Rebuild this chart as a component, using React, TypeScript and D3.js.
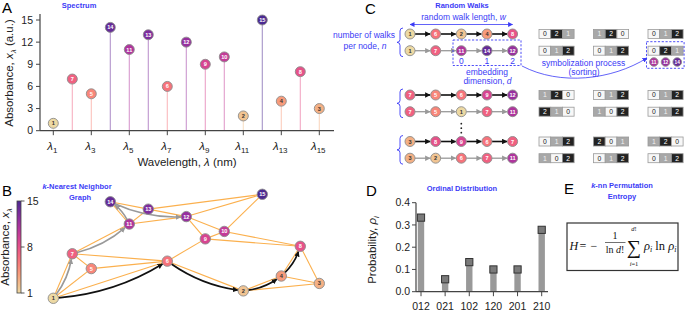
import React from "react";
import * as d3 from "d3";

// ---------- data ----------
const lambdaIndex = [1, 2, 3, 4, 5, 6, 7, 8, 9, 10, 11, 12, 13, 14, 15];
const absorbance = [1, 7, 5, 14, 11, 13, 6, 12, 9, 10, 2, 15, 4, 8, 3];
const absTicks = [0, 3, 6, 9, 12, 15];
const lambdaTicks = [1, 3, 5, 7, 9, 11, 13, 15];
const colorbarTicks = [1, 8, 15];
const sunsetColors = ["#edd9a3", "#f6a97a", "#fa7876", "#ea4f88", "#c0369d", "#872ca2", "#4b2991"];

// kNN graph edges (by node absorbance label)
const knnEdges = [
  [1, 7], [1, 5], [1, 6], [7, 5], [7, 6], [7, 11], [5, 6], [11, 14], [11, 13], [11, 12],
  [14, 13], [13, 12], [13, 15], [12, 15], [12, 9], [12, 10], [15, 10], [10, 9], [10, 8],
  [9, 6], [9, 8], [6, 2], [2, 4], [2, 3], [4, 3], [4, 8], [8, 3],
];
const walkBlack = [1, 6, 2, 4, 8];
const walkGray = [1, 7, 11, 14, 12];

const walks = [
  [1, 6, 2, 4, 8],
  [1, 7, 11, 14, 12],
  [7, 5, 6, 9, 12],
  [7, 5, 1, 7, 11],
  [3, 8, 9, 6, 7],
  [3, 2, 6, 7, 11],
];
const symbols = [
  [[0, 2, 1], [1, 2, 0], [0, 1, 2]],
  [[0, 1, 2], [0, 1, 2], [0, 2, 1]],
  [[1, 2, 0], [0, 1, 2], [0, 1, 2]],
  [[2, 1, 0], [1, 0, 2], [0, 1, 2]],
  [[0, 1, 2], [2, 0, 1], [1, 2, 0]],
  [[1, 0, 2], [0, 1, 2], [0, 1, 2]],
];
const sortedNodes = [11, 12, 14];
const embedLabels = ["0", "1", "2"];

const ordinalPatterns = ["012", "021", "102", "120", "201", "210"];
const ordinalProb = [0.333, 0.056, 0.133, 0.1, 0.1, 0.278];
const probTicks = [0, 0.1, 0.2, 0.3, 0.4];

// ---------- styles ----------
const SANS = "'Liberation Sans', Arial, Helvetica, sans-serif";
const SERIF = "'Liberation Serif', 'DejaVu Serif', serif";
const BLUE = "#3b3bf6";
const AXIS = "#444";
const EDGE = "#fbb04e";

const color = d3.scaleSequential(d3.interpolateRgbBasis(sunsetColors)).domain([1, 15]);

// scales
const xA = d3.scaleLinear().domain([1, 15]).range([53.3, 319.3]);
const yA = d3.scaleLinear().domain([0, 15]).range([130.7, 20]);
const yB = d3.scaleLinear().domain([1, 15]).range([298.3, 194.3]);
const cbY = d3.scaleLinear().domain([1, 15]).range([293, 201]);
const stepX = d3.scaleLinear().domain([0, 4]).range([410, 512.6]);
const xD = d3.scalePoint().domain(ordinalPatterns).range([421, 541.7]);
const yD = d3.scaleLinear().domain([0, 0.4]).range([291.7, 202.7]);

const lambdaOf = (v: number) => lambdaIndex[absorbance.indexOf(v)];
const nodeXY = (v: number) => [xA(lambdaOf(v)), yB(v)];

function Node({ x, y, v, r = 5, fs = 5.6 }: { x: number; y: number; v: number; r?: number; fs?: number }) {
  return (
    <g>
      <circle cx={x} cy={y} r={r} fill={color(v)} stroke="#8c8c8c" strokeWidth={0.9} />
      <text
        x={x}
        y={y + fs * 0.36}
        textAnchor="middle"
        fontFamily={SANS}
        fontWeight="bold"
        fontSize={fs}
        fill={v <= 4 ? "#333" : "#fff"}
      >
        {v}
      </text>
    </g>
  );
}

function arcPath(a: number[], b: number[], r: number, rad = 0.15) {
  const [x1, y1] = a;
  const [x2, y2] = b;
  const dx = x2 - x1, dy = y2 - y1;
  const cx = (x1 + x2) / 2 - dy * rad;
  const cy = (y1 + y2) / 2 + dx * rad;
  const u1 = Math.hypot(cx - x1, cy - y1);
  const u2 = Math.hypot(cx - x2, cy - y2);
  const sx = x1 + ((cx - x1) / u1) * r;
  const sy = y1 + ((cy - y1) / u1) * r;
  const ex = x2 + ((cx - x2) / u2) * (r + 0.6);
  const ey = y2 + ((cy - y2) / u2) * (r + 0.6);
  return `M${sx},${sy} Q${cx},${cy} ${ex},${ey}`;
}

function Brace({ x, top, bottom }: { x: number; top: number; bottom: number }) {
  const mid = (top + bottom) / 2;
  const d = `M${x + 3},${top} Q${x},${top} ${x},${top + 3} L${x},${mid - 3} Q${x},${mid} ${x - 3},${mid} Q${x},${mid} ${x},${mid + 3} L${x},${bottom - 3} Q${x},${bottom} ${x + 3},${bottom}`;
  return <path d={d} fill="none" stroke={BLUE} strokeWidth={0.9} />;
}

export default function App() {
  const cellW = 11.7, cellH = 9;
  const groupX = [539, 593.5, 648];
  const groupTop = [34, 95, 141.5];
  const pairGap = 16.7;
  const rowY = walks.map((_, i) => groupTop[Math.floor(i / 2)] + (i % 2) * pairGap);

  const cellFill = ["#f7f7f7", "#a8a8a8", "#232323"];
  const cellText = ["#222", "#f0f0f0", "#fff"];

  return (
    <svg width={685} height={311} style={{ position: "absolute", left: 0, top: 0, background: "#fff" }}>
      <defs>
        <marker id="arrBlack" viewBox="0 0 10 10" refX="9" refY="5" markerWidth="5.5" markerHeight="5.5" markerUnits="userSpaceOnUse" orient="auto">
          <path d="M0,0 L10,5 L0,10 z" fill="#111" />
        </marker>
        <marker id="arrGray" viewBox="0 0 10 10" refX="9" refY="5" markerWidth="5.5" markerHeight="5.5" markerUnits="userSpaceOnUse" orient="auto">
          <path d="M0,0 L10,5 L0,10 z" fill="#999" />
        </marker>
        <marker id="arrBlue" viewBox="0 0 10 10" refX="9" refY="5" markerWidth="5" markerHeight="5" markerUnits="userSpaceOnUse" orient="auto-start-reverse">
          <path d="M0,0 L10,5 L0,10 z" fill={BLUE} />
        </marker>
        <linearGradient id="cbar" x1="0" y1="1" x2="0" y2="0">
          {d3.range(0, 1.0001, 0.1).map((t) => (
            <stop key={t} offset={t} stopColor={color(1 + t * 14)} />
          ))}
        </linearGradient>
      </defs>

      {/* ================= Panel A ================= */}
      <text x={2} y={12.5} fontFamily={SANS} fontSize={15}>A</text>
      <text x={79} y={7.5} textAnchor="middle" fontFamily={SANS} fontWeight="bold" fontSize={7.5} fill={BLUE}>Spectrum</text>
      {absorbance.map((v, i) => (
        <line key={"s" + i} x1={xA(lambdaIndex[i])} x2={xA(lambdaIndex[i])} y1={yA(0)} y2={yA(v)} stroke={color(v)} strokeOpacity={0.5} strokeWidth={1.1} />
      ))}
      <line x1={40} x2={40} y1={14} y2={yA(0)} stroke={AXIS} strokeWidth={1.2} />
      <line x1={40} x2={334} y1={yA(0)} y2={yA(0)} stroke={AXIS} strokeWidth={1.2} />
      {absTicks.map((t) => (
        <g key={"ya" + t}>
          <line x1={36} x2={40} y1={yA(t)} y2={yA(t)} stroke={AXIS} strokeWidth={1} />
          <text x={33} y={yA(t) + 3.6} textAnchor="end" fontFamily={SANS} fontSize={10.5} fill="#222">{t}</text>
        </g>
      ))}
      {lambdaTicks.map((t) => (
        <g key={"xa" + t}>
          <line x1={xA(t)} x2={xA(t)} y1={yA(0)} y2={yA(0) + 4.5} stroke={AXIS} strokeWidth={1} />
          <text x={xA(t) - 1} y={150} textAnchor="middle" fontFamily={SANS} fontSize={11.5} fill="#222">
            <tspan fontStyle="italic">λ</tspan>
            <tspan fontSize={8} dy={2.5}>{t}</tspan>
          </text>
        </g>
      ))}
      <text x={187} y={166} textAnchor="middle" fontFamily={SANS} fontSize={11.5} fill="#222">
        Wavelength, <tspan fontStyle="italic">λ</tspan> (nm)
      </text>
      <text transform="translate(13,73) rotate(-90)" textAnchor="middle" fontFamily={SANS} fontSize={11.5} fill="#222">
        Absorbance, <tspan fontStyle="italic">x</tspan>
        <tspan fontSize={8} dy={2.5} fontStyle="italic">λ</tspan>
        <tspan dy={-2.5}> (a.u.)</tspan>
      </text>
      {absorbance.map((v, i) => (
        <Node key={"na" + i} x={xA(lambdaIndex[i])} y={yA(v)} v={v} r={5} />
      ))}

      {/* ================= Panel B ================= */}
      <text x={2} y={195.5} fontFamily={SANS} fontSize={15}>B</text>
      <text x={77} y={189} textAnchor="middle" fontFamily={SANS} fontWeight="bold" fontSize={7.5} fill={BLUE}>
        <tspan fontStyle="italic">k</tspan>-Nearest Neighbor
      </text>
      <text x={80} y={199.5} textAnchor="middle" fontFamily={SANS} fontWeight="bold" fontSize={7.5} fill={BLUE}>Graph</text>
      <rect x={17} y={cbY(15)} width={4} height={cbY(1) - cbY(15)} fill="url(#cbar)" stroke="#444" strokeWidth={0.8} />
      {colorbarTicks.map((t) => (
        <g key={"cb" + t}>
          <line x1={21} x2={24.5} y1={cbY(t)} y2={cbY(t)} stroke="#444" strokeWidth={0.9} />
          <text x={27} y={cbY(t) + 3.6} fontFamily={SANS} fontSize={10.5} fill="#222">{t}</text>
        </g>
      ))}
      <text transform="translate(9,247) rotate(-90)" textAnchor="middle" fontFamily={SANS} fontSize={11.5} fill="#222">
        Absorbance, <tspan fontStyle="italic">x</tspan>
        <tspan fontSize={8} dy={2.5} fontStyle="italic">λ</tspan>
      </text>
      {knnEdges.map(([a, b], i) => {
        const [x1, y1] = nodeXY(a);
        const [x2, y2] = nodeXY(b);
        return <line key={"e" + i} x1={x1} y1={y1} x2={x2} y2={y2} stroke={EDGE} strokeWidth={1.1} />;
      })}
      {walkGray.slice(0, -1).map((v, i) => (
        <path key={"wg" + i} d={arcPath(nodeXY(v), nodeXY(walkGray[i + 1]), 5, 0.12)} fill="none" stroke="#999" strokeWidth={1.6} markerEnd="url(#arrGray)" />
      ))}
      {walkBlack.slice(0, -1).map((v, i) => (
        <path key={"wb" + i} d={arcPath(nodeXY(v), nodeXY(walkBlack[i + 1]), 5, 0.12)} fill="none" stroke="#111" strokeWidth={1.7} markerEnd="url(#arrBlack)" />
      ))}
      {absorbance.map((v) => {
        const [x, y] = nodeXY(v);
        return <Node key={"nb" + v} x={x} y={y} v={v} r={5.2} />;
      })}

      {/* ================= Panel C ================= */}
      <text x={365} y={13.5} fontFamily={SANS} fontSize={15}>C</text>
      <text x={462} y={8} textAnchor="middle" fontFamily={SANS} fontWeight="bold" fontSize={7.5} fill={BLUE}>Random Walks</text>
      <text x={463.5} y={19.5} textAnchor="middle" fontFamily={SANS} fontSize={8.5} fill={BLUE}>
        random walk length, <tspan fontStyle="italic">w</tspan>
      </text>
      <line x1={stepX(0)} x2={stepX(4)} y1={24.5} y2={24.5} stroke={BLUE} strokeWidth={0.8} markerStart="url(#arrBlue)" markerEnd="url(#arrBlue)" />
      <text x={364} y={37.5} textAnchor="middle" fontFamily={SANS} fontSize={8.5} fill={BLUE}>number of walks</text>
      <text x={365} y={48.5} textAnchor="middle" fontFamily={SANS} fontSize={8.5} fill={BLUE}>
        per node, <tspan fontStyle="italic">n</tspan>
      </text>
      {groupTop.map((gt, g) => (
        <Brace key={"br" + g} x={400} top={gt - 6} bottom={gt + pairGap + 6} />
      ))}
      {walks.map((w, ri) => (
        <g key={"walk" + ri}>
          {w.slice(0, -1).map((_, k) => (
            <line
              key={k}
              x1={stepX(k) + 5}
              x2={stepX(k + 1) - 5.6}
              y1={rowY[ri]}
              y2={rowY[ri]}
              stroke={ri % 2 === 0 ? "#111" : "#999"}
              strokeWidth={ri % 2 === 0 ? 1.6 : 1.3}
              markerEnd={ri % 2 === 0 ? "url(#arrBlack)" : "url(#arrGray)"}
            />
          ))}
          {w.map((v, k) => (
            <Node key={"n" + k} x={stepX(k)} y={rowY[ri]} v={v} r={5} />
          ))}
        </g>
      ))}
      {[0, 1, 2].map((k) => (
        <circle key={"dot" + k} cx={stepX(2)} cy={rowY[3] + 12 + k * 4.5} r={0.9} fill="#222" />
      ))}
      <rect x={453} y={40} width={68} height={25.5} fill="none" stroke={BLUE} strokeWidth={0.9} strokeDasharray="2.2,1.6" />
      {embedLabels.map((l, k) => (
        <text key={"el" + k} x={stepX(k + 2)} y={64} textAnchor="middle" fontFamily={SANS} fontSize={8.5} fill={BLUE}>{l}</text>
      ))}
      <text x={487} y={75} textAnchor="middle" fontFamily={SANS} fontSize={8.5} fill={BLUE}>embedding</text>
      <text x={487.5} y={84} textAnchor="middle" fontFamily={SANS} fontSize={8.5} fill={BLUE}>
        dimension, <tspan fontStyle="italic">d</tspan>
      </text>
      <path d="M522,66 C560,86 612,80 647,58" fill="none" stroke={BLUE} strokeWidth={0.8} markerEnd="url(#arrBlue)" />
      <text x={583.5} y={65.5} textAnchor="middle" fontFamily={SANS} fontSize={8.5} fill={BLUE}>symbolization process</text>
      <text x={584} y={75} textAnchor="middle" fontFamily={SANS} fontSize={8.5} fill={BLUE}>(sorting)</text>
      {symbols.map((row, ri) =>
        row.map((sym, gi) => (
          <g key={`sym${ri}-${gi}`}>
            {sym.map((s, ci) => {
              const x = groupX[gi] + ci * cellW;
              const y = rowY[ri] - cellH / 2;
              return (
                <g key={ci}>
                  <rect x={x} y={y} width={cellW} height={cellH} fill={cellFill[s]} stroke="#9a9a9a" strokeWidth={0.8} />
                  <text x={x + cellW / 2} y={y + cellH / 2 + 2.4} textAnchor="middle" fontFamily={SANS} fontSize={6.8} fill={cellText[s]}>{s}</text>
                </g>
              );
            })}
          </g>
        ))
      )}
      <rect x={groupX[2] - 1.5} y={41.7} width={3 * cellW + 2.5} height={26.6} fill="none" stroke={BLUE} strokeWidth={0.9} strokeDasharray="2.2,1.6" />
      {sortedNodes.map((v, k) => (
        <Node key={"sn" + k} x={groupX[2] + (k + 0.5) * cellW} y={62} v={v} r={4.3} fs={4.8} />
      ))}

      {/* ================= Panel D ================= */}
      <text x={366} y={195.5} fontFamily={SANS} fontSize={15}>D</text>
      <text x={462} y={191} textAnchor="middle" fontFamily={SANS} fontWeight="bold" fontSize={7.5} fill={BLUE}>Ordinal Distribution</text>
      {ordinalPatterns.map((p, i) => (
        <rect key={"bar" + p} x={(xD(p) as number) - 3.2} y={yD(ordinalProb[i])} width={6.4} height={yD(0) - yD(ordinalProb[i])} fill="#999" />
      ))}
      <line x1={416} x2={416} y1={yD(0.4)} y2={yD(0)} stroke={AXIS} strokeWidth={1.2} />
      <line x1={416} x2={548} y1={yD(0)} y2={yD(0)} stroke={AXIS} strokeWidth={1.2} />
      {probTicks.map((t) => (
        <g key={"yd" + t}>
          <line x1={412} x2={416} y1={yD(t)} y2={yD(t)} stroke={AXIS} strokeWidth={1} />
          <text x={410} y={yD(t) + 3.6} textAnchor="end" fontFamily={SANS} fontSize={10.5} fill="#222">{t.toFixed(1)}</text>
        </g>
      ))}
      {ordinalPatterns.map((p) => (
        <g key={"xd" + p}>
          <line x1={xD(p) as number} x2={xD(p) as number} y1={yD(0)} y2={yD(0) + 4.5} stroke={AXIS} strokeWidth={1} />
          <text x={xD(p) as number} y={310} textAnchor="middle" fontFamily={SANS} fontSize={10.5} fill="#222">{p}</text>
        </g>
      ))}
      {ordinalPatterns.map((p, i) => (
        <rect key={"mk" + p} x={(xD(p) as number) - 3.6} y={yD(ordinalProb[i]) - 3.6} width={7.2} height={7.2} fill="#7a7a7a" stroke="#333" strokeWidth={1} />
      ))}
      <text transform="translate(376,250) rotate(-90)" textAnchor="middle" fontFamily={SANS} fontSize={11.5} fill="#222">
        Probability, <tspan fontStyle="italic">ρ</tspan>
        <tspan fontSize={8} dy={2.5} fontStyle="italic">i</tspan>
      </text>

      {/* ================= Panel E ================= */}
      <text x={564} y={193.5} fontFamily={SANS} fontSize={15}>E</text>
      <text x={622} y={188} textAnchor="middle" fontFamily={SANS} fontWeight="bold" fontSize={7.5} fill={BLUE}>
        <tspan fontStyle="italic">k</tspan>-nn Permutation
      </text>
      <text x={622} y={199} textAnchor="middle" fontFamily={SANS} fontWeight="bold" fontSize={7.5} fill={BLUE}>Entropy</text>
      <rect x={567} y={223} width={111} height={47.5} fill="none" stroke="#333" strokeWidth={1.2} />
      <g fontFamily={SERIF} fill="#111">
        <text x={569.5} y={250} fontSize={12} fontStyle="italic">H</text>
        <text x={579.5} y={250} fontSize={12}>=</text>
        <text x={590.5} y={250} fontSize={12}>−</text>
        <text x={615} y={239} fontSize={10} textAnchor="middle">1</text>
        <line x1={605} x2={625.5} y1={242.5} y2={242.5} stroke="#111" strokeWidth={0.6} />
        <text x={615} y={253} fontSize={10} textAnchor="middle">
          ln <tspan fontStyle="italic">d</tspan>!
        </text>
        <text x={634} y={253.5} fontSize={20} textAnchor="middle">∑</text>
        <text x={634} y={230.5} fontSize={6.5} textAnchor="middle">
          <tspan fontStyle="italic">d</tspan>!
        </text>
        <text x={634} y={265.5} fontSize={6.5} textAnchor="middle">
          <tspan fontStyle="italic">i</tspan>=1
        </text>
        <text x={644} y={250} fontSize={12.5}>
          <tspan fontStyle="italic">ρ</tspan>
          <tspan fontSize={8} dy={2.2} fontStyle="italic">i</tspan>
          <tspan dy={-2.2}> ln </tspan>
          <tspan fontStyle="italic">ρ</tspan>
          <tspan fontSize={8} dy={2.2} fontStyle="italic">i</tspan>
        </text>
      </g>
    </svg>
  );
}
